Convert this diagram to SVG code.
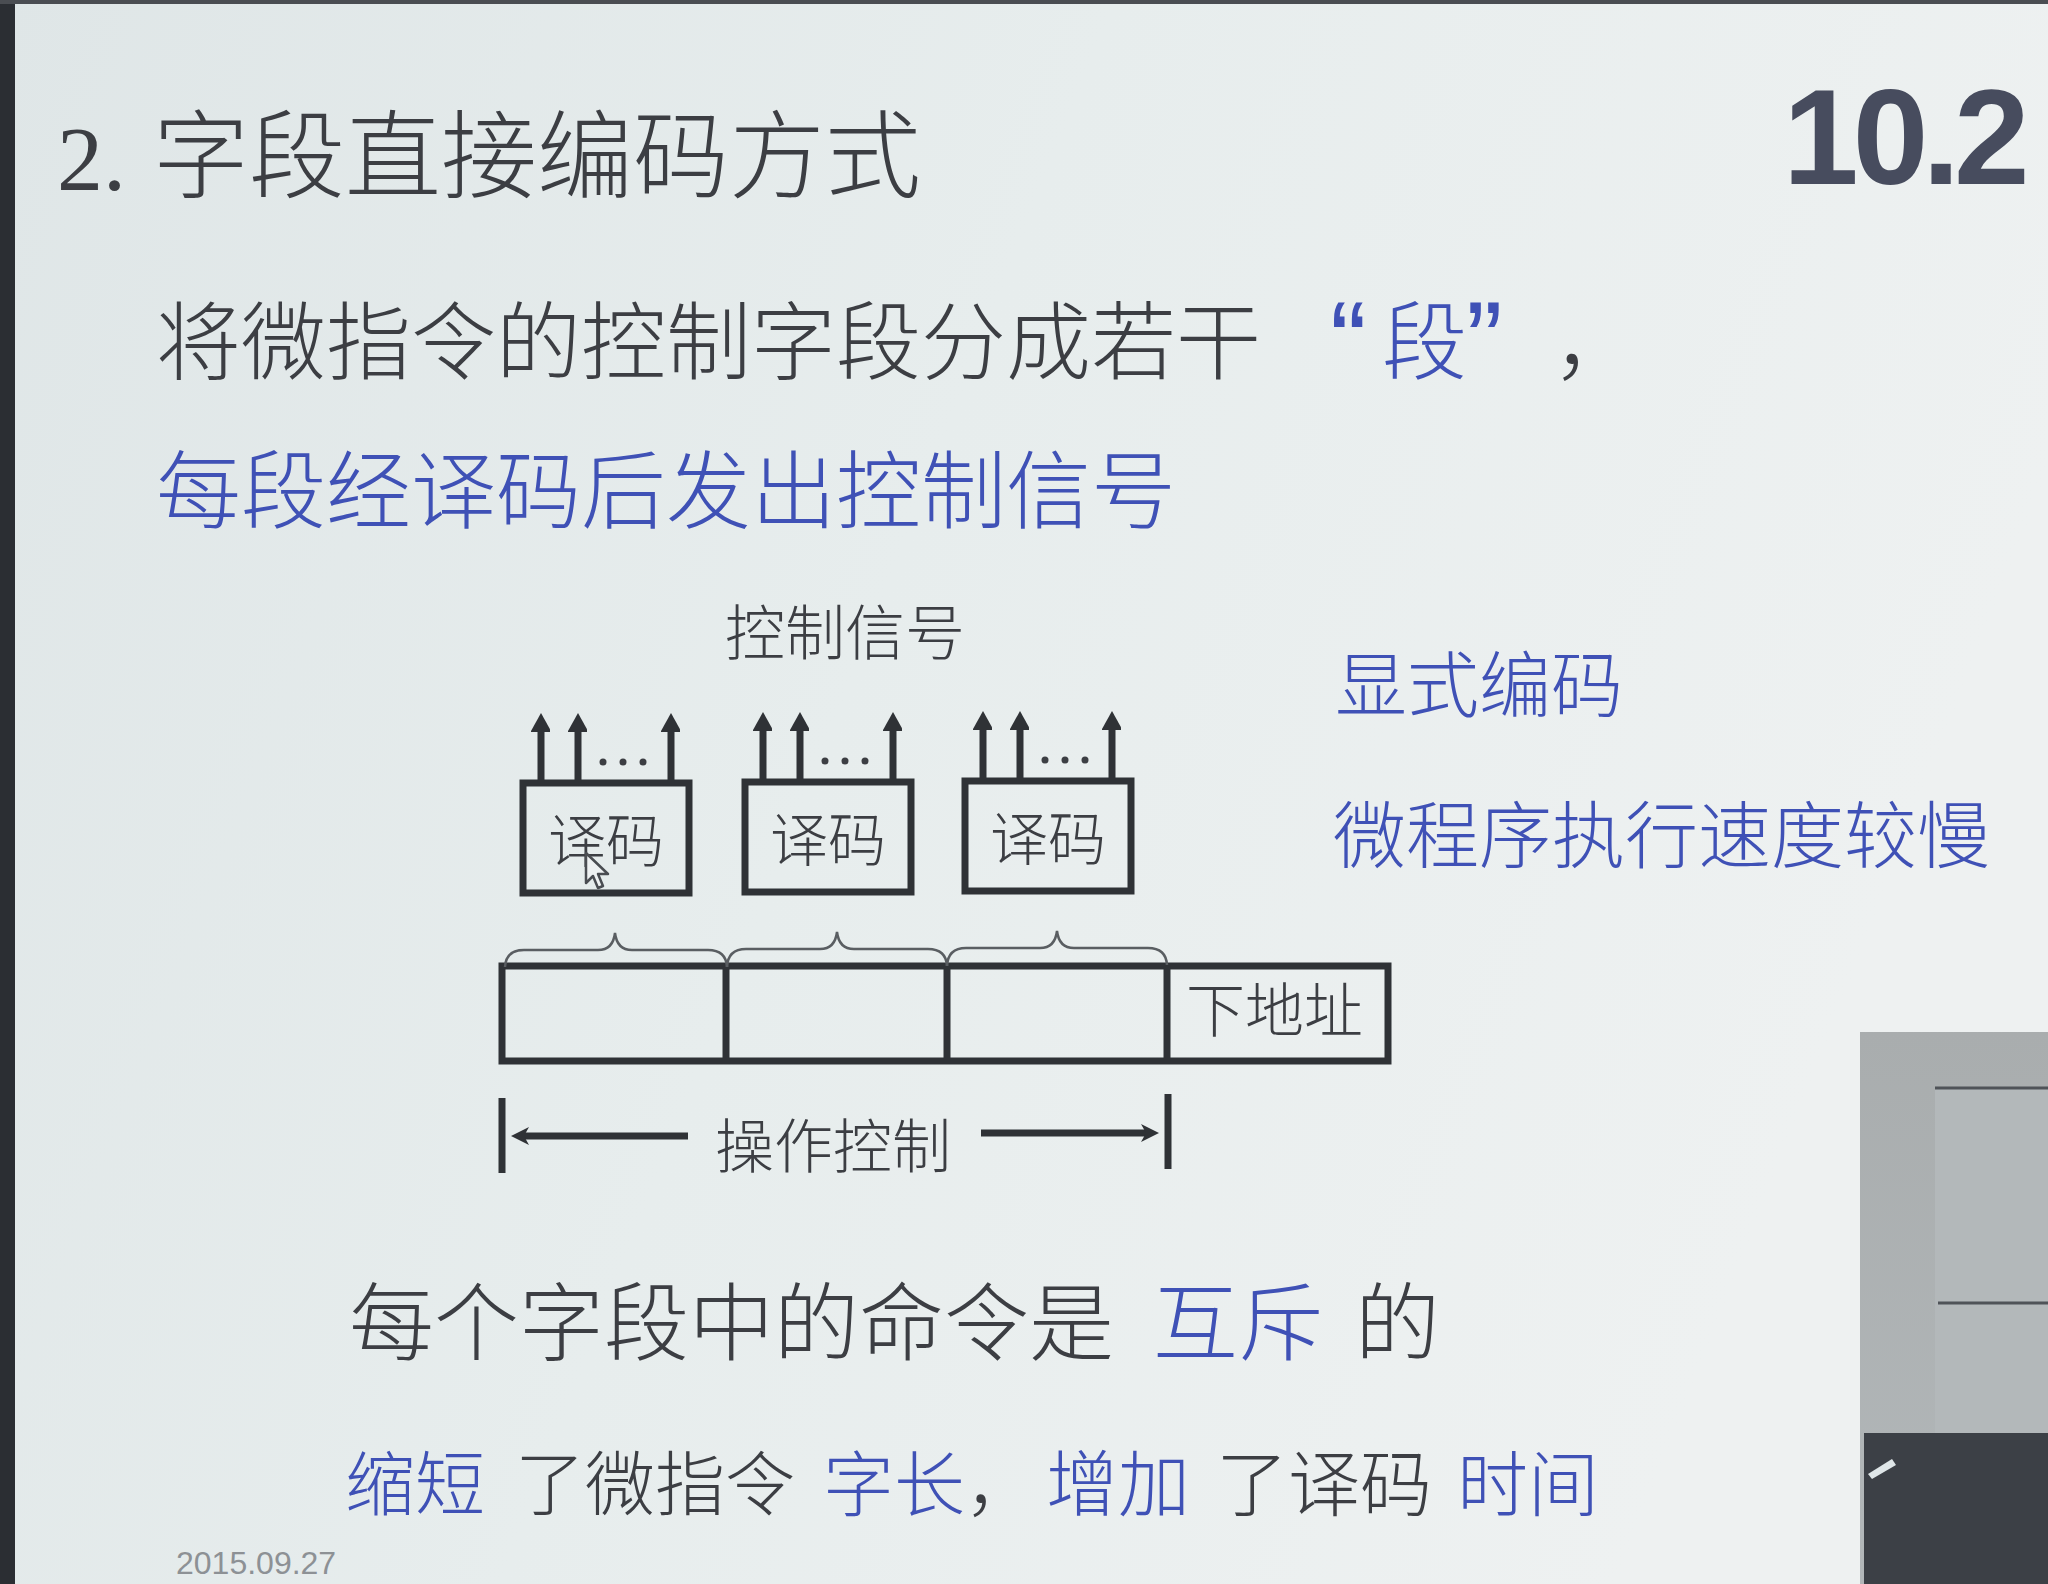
<svg xmlns="http://www.w3.org/2000/svg" width="2048" height="1584" viewBox="0 0 2048 1584">
  <defs>
    <linearGradient id="bg" x1="0" y1="0" x2="1" y2="0.3">
      <stop offset="0" stop-color="#dfe6e7"/>
      <stop offset="0.5" stop-color="#e7eded"/>
      <stop offset="1" stop-color="#eef1f1"/>
    </linearGradient>
    <linearGradient id="panel" x1="0" y1="0" x2="0" y2="1">
      <stop offset="0" stop-color="#a9adae"/>
      <stop offset="1" stop-color="#b2b7b9"/>
    </linearGradient>
    <marker id="sig" markerUnits="userSpaceOnUse" viewBox="0 0 21 19" markerWidth="21" markerHeight="19" refX="0" refY="10.5" orient="auto">
      <path d="M0,0 L19,10.5 L0,21 z" fill="#2f3236"/>
    </marker>
    <marker id="dim" markerUnits="userSpaceOnUse" viewBox="0 0 18 18" markerWidth="18" markerHeight="18" refX="5" refY="9" orient="auto">
      <path d="M0,0 L18,9 L0,18 L5,9 z" fill="#2f3236"/>
    </marker>
    <style>
      .cjk { font-family: "Noto Sans CJK SC", "Noto Sans", sans-serif; font-weight: 300; }
      .ink { fill: #3c3e43; }
      .blue { fill: #3f51b6; }
      .box { fill: none; stroke: #2f3236; stroke-width: 7; }
      .wire { fill: none; stroke: #2f3236; stroke-width: 7; }
      .brace { fill: none; stroke: #5a5e62; stroke-width: 2.5; }
      .dot { fill: #3c3e43; }
    </style>
  </defs>

  <!-- slide background -->
  <rect x="0" y="0" width="2048" height="1584" fill="url(#bg)"/>
  <rect x="0" y="0" width="15" height="1584" fill="#2b2e33"/>
  <rect x="0" y="0" width="2048" height="4" fill="#4a4d52"/>

  <!-- heading texts -->
  <g id="title">
    <text x="57" y="190" font-family="Liberation Serif, serif" font-size="92" class="ink">2.</text>
    <text x="153" y="190" class="cjk ink" font-size="96">字段直接编码方式</text>
  </g>
  <text id="section" x="1783" y="184" font-family="Liberation Sans, Arial, sans-serif" font-size="136" font-weight="bold" letter-spacing="-6" fill="#474c5e">10.2</text>

  <g id="intro">
    <text x="156" y="373" class="cjk ink" font-size="85">将微指令的控制字段分成若干</text>
    <text x="1330" y="378" font-family="Liberation Sans, Arial, sans-serif" font-size="110" class="blue">“</text>
    <text x="1382" y="373" class="cjk blue" font-size="85">段</text>
    <text x="1466" y="378" font-family="Liberation Sans, Arial, sans-serif" font-size="110" class="blue">”</text>
    <text x="1553" y="373" class="cjk ink" font-size="85">，</text>
    <text x="156" y="522" class="cjk blue" font-size="85">每段经译码后发出控制信号</text>
  </g>

  <!-- diagram -->
  <g id="label-signals">
    <text x="725" y="655" class="cjk ink" font-size="60">控制信号</text>
  </g>

  <g id="decoder1">
    <rect class="box" x="523" y="783" width="166" height="110"/>
    <text x="606" y="862" class="cjk ink" font-size="58" text-anchor="middle">译码</text>
  </g>
  <g id="decoder2">
    <rect class="box" x="745" y="782" width="166" height="110"/>
    <text x="828" y="861" class="cjk ink" font-size="58" text-anchor="middle">译码</text>
  </g>
  <g id="decoder3">
    <rect class="box" x="965" y="781" width="166" height="110"/>
    <text x="1048" y="860" class="cjk ink" font-size="58" text-anchor="middle">译码</text>
  </g>

  <g id="register">
    <rect class="box" x="502" y="966" width="886" height="95"/>
    <line class="wire" x1="726" y1="966" x2="726" y2="1061"/>
    <line class="wire" x1="947" y1="966" x2="947" y2="1061"/>
    <line class="wire" x1="1167" y1="966" x2="1167" y2="1061"/>
    <text x="1186" y="1032" class="cjk ink" font-size="59">下地址</text>
  </g>

  <g id="connectors">
    <!-- decoder 1 outputs -->
    <line class="wire" x1="541" y1="783" x2="541" y2="732" marker-end="url(#sig)"/>
    <line class="wire" x1="578" y1="783" x2="578" y2="732" marker-end="url(#sig)"/>
    <line class="wire" x1="671" y1="783" x2="671" y2="732" marker-end="url(#sig)"/>
    <circle class="dot" cx="603" cy="762" r="3.5"/>
    <circle class="dot" cx="623" cy="762" r="3.5"/>
    <circle class="dot" cx="643" cy="762" r="3.5"/>
    <!-- decoder 2 outputs -->
    <line class="wire" x1="763" y1="782" x2="763" y2="731" marker-end="url(#sig)"/>
    <line class="wire" x1="800" y1="782" x2="800" y2="731" marker-end="url(#sig)"/>
    <line class="wire" x1="893" y1="782" x2="893" y2="731" marker-end="url(#sig)"/>
    <circle class="dot" cx="825" cy="761" r="3.5"/>
    <circle class="dot" cx="845" cy="761" r="3.5"/>
    <circle class="dot" cx="865" cy="761" r="3.5"/>
    <!-- decoder 3 outputs -->
    <line class="wire" x1="983" y1="781" x2="983" y2="730" marker-end="url(#sig)"/>
    <line class="wire" x1="1020" y1="781" x2="1020" y2="730" marker-end="url(#sig)"/>
    <line class="wire" x1="1112" y1="781" x2="1112" y2="730" marker-end="url(#sig)"/>
    <circle class="dot" cx="1045" cy="760" r="3.5"/>
    <circle class="dot" cx="1065" cy="760" r="3.5"/>
    <circle class="dot" cx="1085" cy="760" r="3.5"/>
    <!-- braces over fields -->
    <path class="brace" d="M505,967 Q506,950 524,950 L598,950 Q613,950 615,933 Q617,950 632,950 L708,950 Q726,950 727,967"/>
    <path class="brace" d="M727,967 Q728,949 746,949 L820,949 Q835,949 837,932 Q839,949 854,949 L928,949 Q946,949 947,966"/>
    <path class="brace" d="M947,966 Q948,948 966,948 L1040,948 Q1055,948 1057,931 Q1059,948 1074,948 L1148,948 Q1166,948 1167,965"/>
    <!-- operation-control span -->
    <line class="wire" x1="502" y1="1098" x2="502" y2="1173"/>
    <line class="wire" x1="1168" y1="1094" x2="1168" y2="1169"/>
    <line class="wire" x1="688" y1="1136" x2="524" y2="1136" marker-end="url(#dim)"/>
    <line class="wire" x1="981" y1="1133" x2="1146" y2="1133" marker-end="url(#dim)"/>
  </g>

  <g id="label-opcontrol">
    <text x="715" y="1168" class="cjk ink" font-size="59">操作控制</text>
  </g>

  <g id="cursor">
    <polygon points="586,853 586,883 593,876 598,888 603,886 598,874 608,874" fill="#eef1f2" stroke="#4a4d52" stroke-width="2.5" stroke-linejoin="round"/>
  </g>

  <g id="notes">
    <text x="1335" y="711" class="cjk blue" font-size="72">显式编码</text>
    <text x="1333" y="862" class="cjk blue" font-size="73">微程序执行速度较慢</text>
  </g>

  <g id="bottom">
    <text x="349" y="1354" class="cjk ink" font-size="85">每个字段中的命令是</text>
    <text x="1153" y="1354" class="cjk blue" font-size="85">互斥</text>
    <text x="1355" y="1354" class="cjk ink" font-size="85">的</text>

    <text x="345" y="1510" class="cjk blue" font-size="70">缩短</text>
    <text x="515" y="1510" class="cjk ink" font-size="70">了微指令</text>
    <text x="823" y="1510" class="cjk blue" font-size="71">字长</text>
    <text x="965" y="1510" class="cjk ink" font-size="71">，</text>
    <text x="1046" y="1510" class="cjk blue" font-size="72">增加</text>
    <text x="1216" y="1510" class="cjk ink" font-size="72">了译码</text>
    <text x="1457" y="1510" class="cjk blue" font-size="71">时间</text>
  </g>

  <text id="date" x="176" y="1574" font-family="Liberation Sans, Arial, sans-serif" font-size="32" fill="#8d9195">2015.09.27</text>

  <!-- occluding object at bottom right -->
  <g id="corner-object">
    <rect x="1860" y="1032" width="188" height="552" fill="url(#panel)"/>
    <rect x="1935" y="1088" width="113" height="345" fill="#b3b8ba"/>
    <line x1="1935" y1="1088" x2="2048" y2="1088" stroke="#4f5358" stroke-width="3"/>
    <line x1="1938" y1="1303" x2="2048" y2="1303" stroke="#4f5358" stroke-width="3"/>
    <rect x="1864" y="1433" width="184" height="151" fill="#3c4046"/>
    <path d="M1868,1474 L1892,1459 L1896,1465 L1872,1479 z" fill="#dfe6e8"/>
  </g>
</svg>
